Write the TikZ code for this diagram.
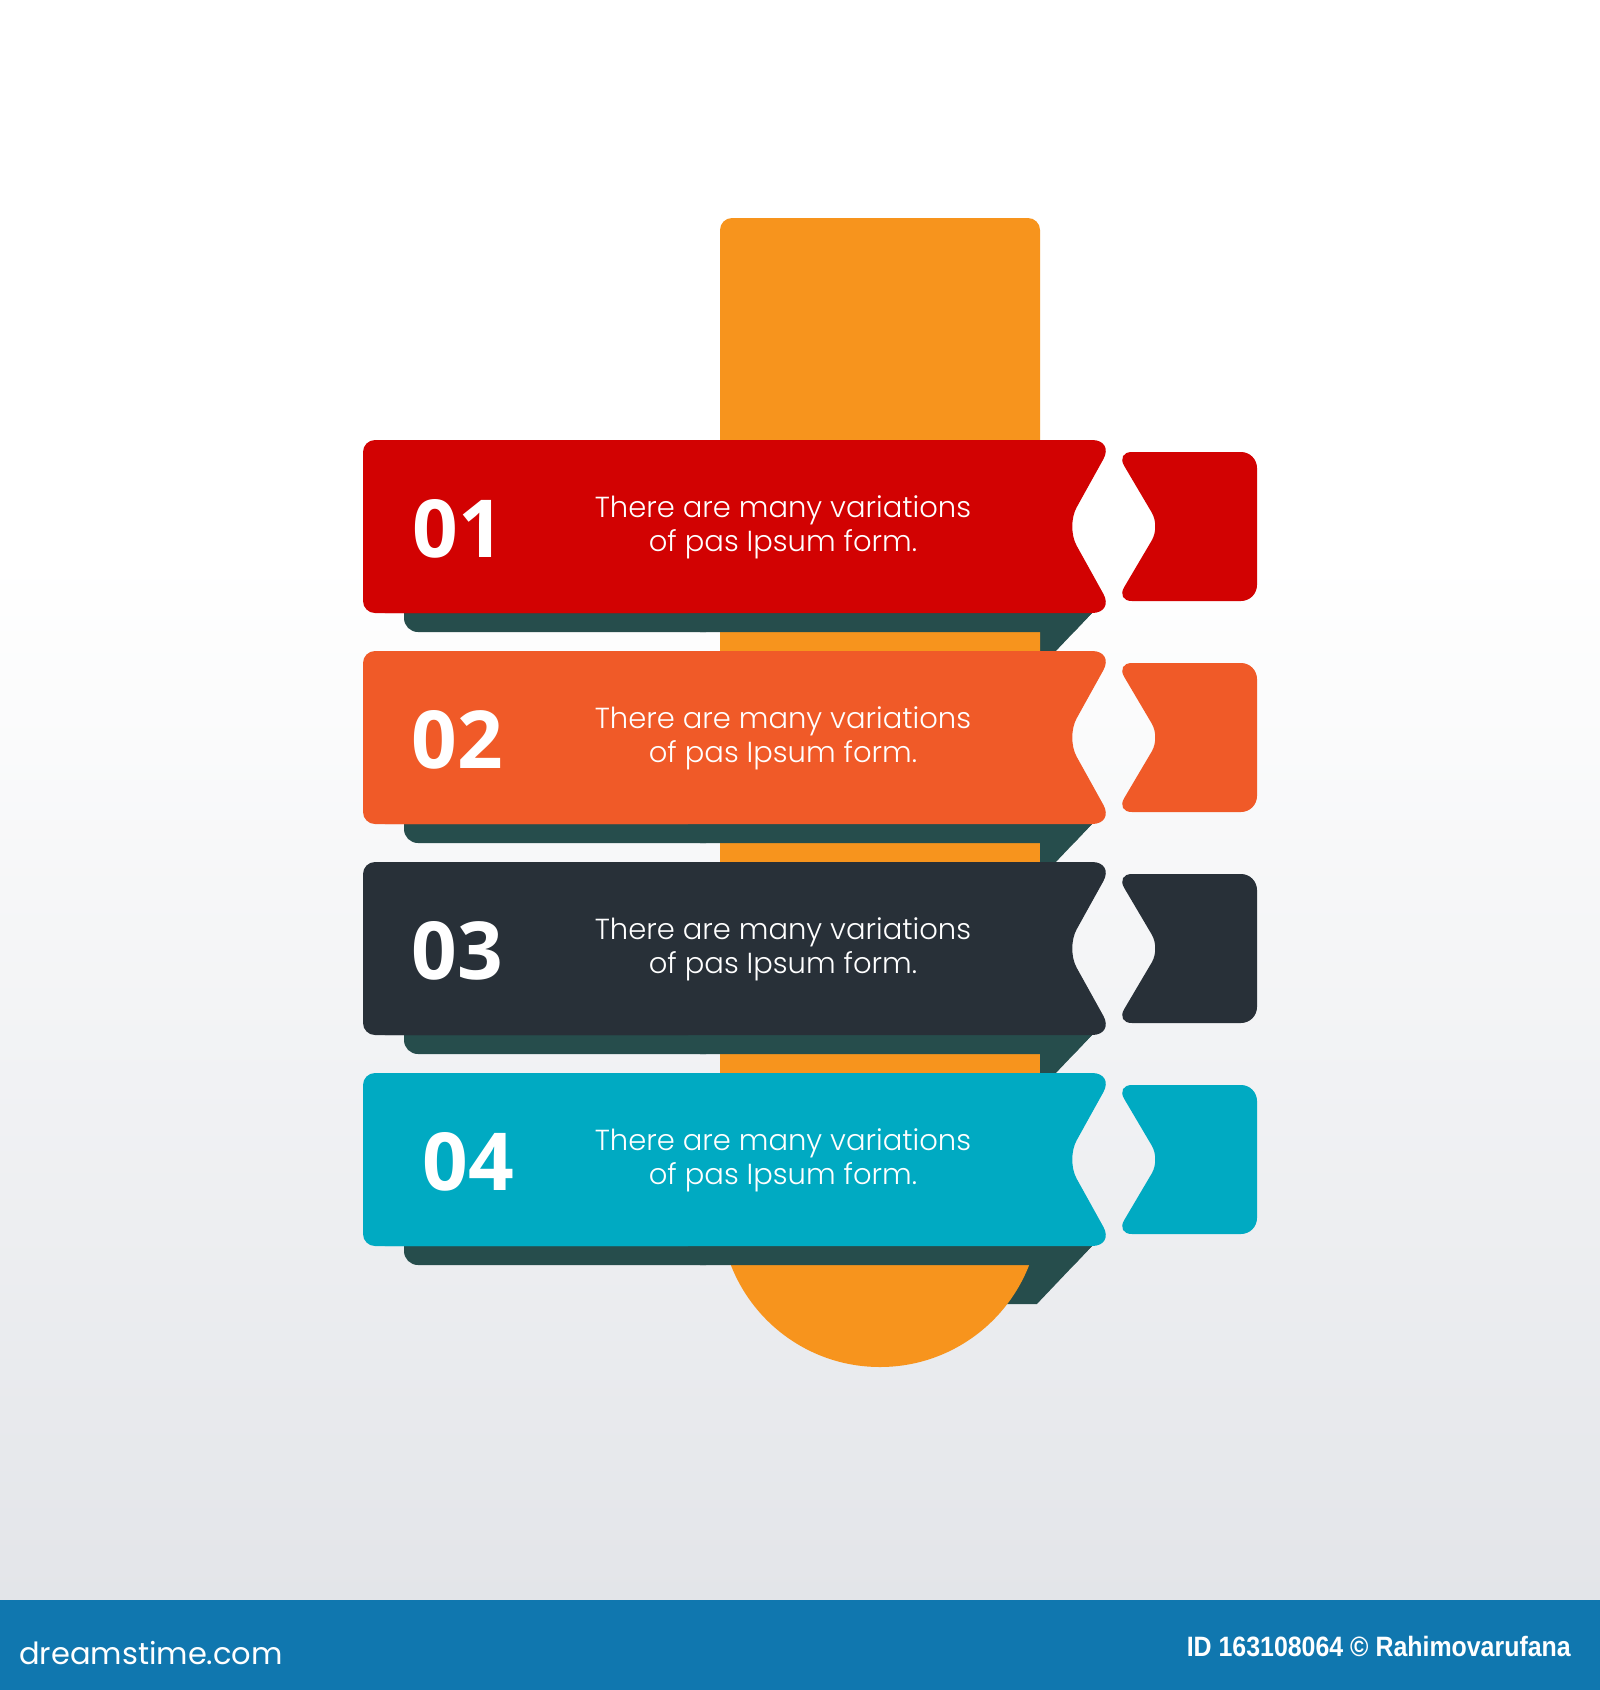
\documentclass[tikz,border=0pt]{standalone}
\usepackage{fontspec}
\newfontfamily\numfont{Open Sans}
\newfontfamily\bodyfont{Poppins Light}
\newfontfamily\logofont{Poppins}
\newfontfamily\credfont{Liberation Sans}
\definecolor{cred}{RGB}{210,2,2}
\definecolor{corg}{RGB}{240,90,40}
\definecolor{cdark}{RGB}{40,48,56}
\definecolor{cteal}{RGB}{0,170,194}
\definecolor{ccol}{RGB}{247,148,29}
\definecolor{cshadow}{RGB}{38,77,76}
\definecolor{cblue}{RGB}{16,119,175}
\definecolor{cbg}{RGB}{227,229,233}
\tikzset{
  numtxt/.style={text=white, font=\numfont\bfseries\fontsize{80}{80}\selectfont, inner sep=0pt},
  bodytxt/.style={text=white, font=\bodyfont\fontsize{29}{31}\selectfont, inner sep=0pt},
  credtxt/.style={text=white, font=\credfont\bfseries\fontsize{28}{28}\selectfont, inner sep=0pt},
  logotxt/.style={text=white, font=\logofont\fontsize{30.5}{32}\selectfont, inner sep=0pt},
  bannershape/.style={rounded corners=22},
  tabshape/.style={rounded corners=16},
}
\begin{document}
\begin{tikzpicture}[x=1pt,y=-1pt]
\useasboundingbox (0,0) rectangle (1600,1690);
% background
\fill[white] (0,0) rectangle (1600,561);
\shade[top color=white, bottom color=cbg] (0,560) rectangle (1600,1600);
% shadow extensions (behind column)
\foreach \i in {0,1,2,3}{
  \pgfmathsetmacro\B{440+211*\i+173}
  \fill[cshadow] (900,\B) -- (1092,\B) -- (1092-0.95*58,\B+58) -- (900,\B+58) -- cycle;
}
% orange column
\fill[ccol, rounded corners=12] (720,218) rectangle (1040,700);
\fill[ccol] (720,400) rectangle (1040,1207);
\fill[ccol] (880,1207) circle (160);
% shadow bands (over column)
\foreach \i in {0,1,2,3}{
  \pgfmathsetmacro\B{440+211*\i+173}
  \fill[cshadow, rounded corners=14] (404,\B-20) rectangle (720,\B+19);
  \fill[cshadow] (700,\B-4) -- (1092+0.95*4,\B-4) -- (1092-0.95*19,\B+19) -- (700,\B+19) -- cycle;
}
% banners, tabs, texts
\foreach \i/\col/\num/\nx in {0/cred/01/458, 1/corg/02/457, 2/cdark/03/457, 3/cteal/04/468}{
  \pgfmathsetmacro\T{440+211*\i}
  \fill[\col, bannershape] (363,\T) -- (1114,\T) -- (1066,\T+86.5) -- (1114,\T+173) -- (363,\T+173) -- cycle;
  \fill[\col, rounded corners=12] (363,\T) rectangle (700,\T+173);
  \fill[\col, tabshape] (1116,\T+12) -- (1257,\T+12) -- (1257,\T+161) -- (1116,\T+161) -- (1160,\T+86.5) -- cycle;
  \node[numtxt, anchor=base] (num\i) at (\nx,\T+117) {\num};
  \node[bodytxt, anchor=base] (txa\i) at (783,\T+77) {There are many variations};
  \node[bodytxt, anchor=base] (txb\i) at (783,\T+111) {of pas Ipsum form.};
}
% bottom bar
\fill[cblue] (0,1600) rectangle (1600,1690);
\node[logotxt, anchor=base west] (logo) at (19,1664) {dreamstime.com};
\node[credtxt, anchor=base east] (credit) at (1571,1656) {\scalebox{0.89}[1]{ID 163108064 © Rahimovarufana}};
\end{tikzpicture}
\end{document}
